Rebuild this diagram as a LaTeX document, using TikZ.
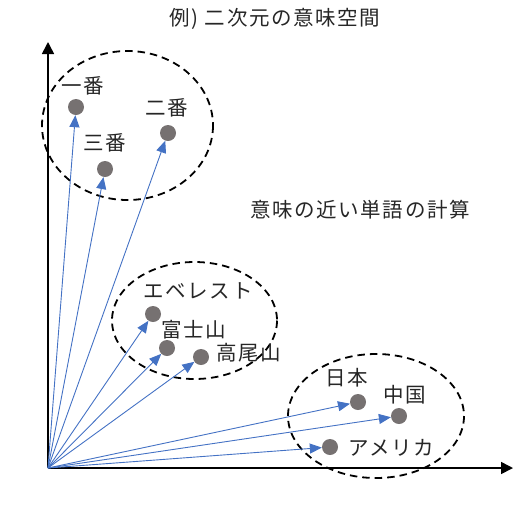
\documentclass[tikz,border=0pt]{standalone}
\usepackage{fontspec}
\newfontfamily\jpfont[LetterSpace=8]{Noto Sans CJK JP}
\usetikzlibrary{arrows.meta}
\definecolor{vecblue}{RGB}{68,114,196}
\definecolor{dotgray}{RGB}{118,113,113}
\definecolor{txtgray}{RGB}{38,38,38}

\begin{document}
\begin{tikzpicture}[x=1pt, y=-1pt,
    txt/.style={font=\jpfont\fontsize{20.5}{24}\selectfont, text=txtgray, inner sep=0pt},
    dot/.style={circle, fill=dotgray, minimum size=16pt, inner sep=0pt},
    vec/.style={color=vecblue, line width=0.9pt, -{Triangle[length=12pt, width=10pt]}},
    axis/.style={line width=1.6pt, -{Triangle[length=12pt, width=12pt]}},
    group/.style={line width=1.8pt, dash pattern=on 7.5pt off 5pt}]
    \useasboundingbox (0,0) rectangle (526,512);
    % axes
    \coordinate (o) at (48,468);
    \coordinate (ytop) at (48,42);
    \coordinate (xend) at (513,468);
    \draw[axis] (o) -- (ytop);
    \draw[axis] (o) -- (xend);
    % groups
    \draw[group] (127.5,125.5) ellipse (85.5 and 74.5);
    \draw[group] (194.5,320.5) ellipse (82.5 and 58.5);
    \draw[group] (376,416) ellipse (88 and 62);
    % words
    \node[dot] (ichiban) at (76,107) {};
    \node[dot] (niban) at (168,133) {};
    \node[dot] (sanban) at (105,169) {};
    \node[dot] (everest) at (153,314) {};
    \node[dot] (fuji) at (167,348) {};
    \node[dot] (takao) at (201,357) {};
    \node[dot] (nihon) at (358,402) {};
    \node[dot] (chugoku) at (399,416) {};
    \node[dot] (america) at (330,447) {};
    \foreach \w in {ichiban,niban,sanban,everest,fuji,takao,nihon,chugoku,america}
        \draw[vec] (o) -- (\w);
    % labels
    \node[txt] (title) at (275,19) {例) 二次元の意味空間};
    \node[txt] (note) at (360,210) {意味の近い単語の計算};
    \node[txt] (l-ichiban) at (83,86) {一番};
    \node[txt] (l-niban) at (167,108) {二番};
    \node[txt] (l-sanban) at (105,143) {三番};
    \node[txt] (l-everest) at (198,291) {エベレスト};
    \node[txt] (l-fuji) at (194,330) {富士山};
    \node[txt] (l-takao) at (249,353) {高尾山};
    \node[txt] (l-nihon) at (347,378) {日本};
    \node[txt] (l-chugoku) at (405,395) {中国};
    \node[txt] (l-america) at (391,448) {アメリカ};
\end{tikzpicture}
\end{document}
